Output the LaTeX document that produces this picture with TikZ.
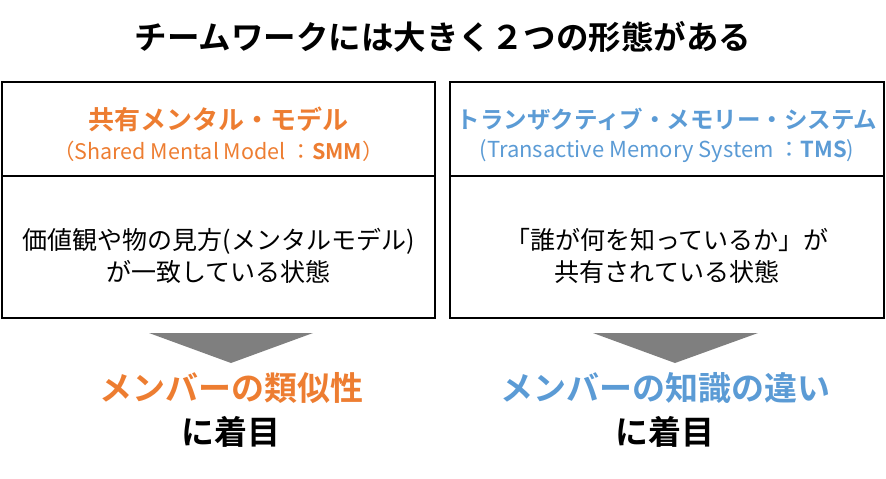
\documentclass[tikz,border=0pt]{standalone}
\usepackage{fontspec}
\setmainfont{Noto Sans CJK JP}[BoldFont={Noto Sans CJK JP Bold}]
\definecolor{smmorange}{HTML}{ED7D31}
\definecolor{tmsblue}{HTML}{5B9BD5}
\definecolor{arrowgray}{HTML}{7F7F7F}

\begin{document}
\begin{tikzpicture}[x=1pt, y=-1pt]
% Styles for the two columns
\tikzset{
  frame/.style={draw=black, line width=1.4pt},
  headline/.style={anchor=center, font=\bfseries},
  subline/.style={anchor=center, font=\fontsize{21.5}{24}\selectfont},
  bodytext/.style={anchor=center, align=center, font=\fontsize{25}{32}\selectfont},
  focus/.style={anchor=center, align=center, font=\fontsize{33}{44}\selectfont\bfseries}
}
\useasboundingbox (0,0) rectangle (886,479);

% Title
\node[anchor=center, font=\fontsize{32.5}{36}\selectfont\bfseries] (title) at (443, 37) {チームワークには大きく２つの形態がある};

% Left column: shared mental model
\draw[frame] (2, 82) rectangle (435, 318);
\draw[frame] (2, 176) -- (435, 176);
\node[headline, text=smmorange, font=\fontsize{26}{30}\selectfont\bfseries] (smmname) at (218.5, 119) {共有メンタル・モデル};
\node[subline, text=smmorange] (smmabbr) at (218.5, 151) {（Shared Mental Model ：\textbf{SMM}）};
\node[bodytext] (smmbody) at (218.5, 256) {価値観や物の見方(メンタルモデル)\\が一致している状態};
\fill[arrowgray] (149, 333) -- (313, 333) -- (231, 363) -- cycle;
\node[focus] (smmfocus) at (231, 410) {\textcolor{smmorange}{メンバーの類似性}\\に着目};

% Right column: transactive memory system
\draw[frame] (450, 82) rectangle (884, 318);
\draw[frame] (450, 176) -- (884, 176);
\node[headline, text=tmsblue, font=\fontsize{23.5}{28}\selectfont\bfseries] (tmsname) at (667, 119) {トランザクティブ・メモリー・システム};
\node[subline, text=tmsblue, font=\fontsize{22}{24}\selectfont] (tmsabbr) at (667, 151) {(Transactive Memory System ：\textbf{TMS})};
\node[bodytext] (tmsbody) at (667, 256) {「誰が何を知っているか」が\\共有されている状態};
\fill[arrowgray] (593, 333) -- (758, 333) -- (675, 363) -- cycle;
\node[focus] (tmsfocus) at (665, 410) {\textcolor{tmsblue}{メンバーの知識の違い}\\に着目};
\end{tikzpicture}
\end{document}
